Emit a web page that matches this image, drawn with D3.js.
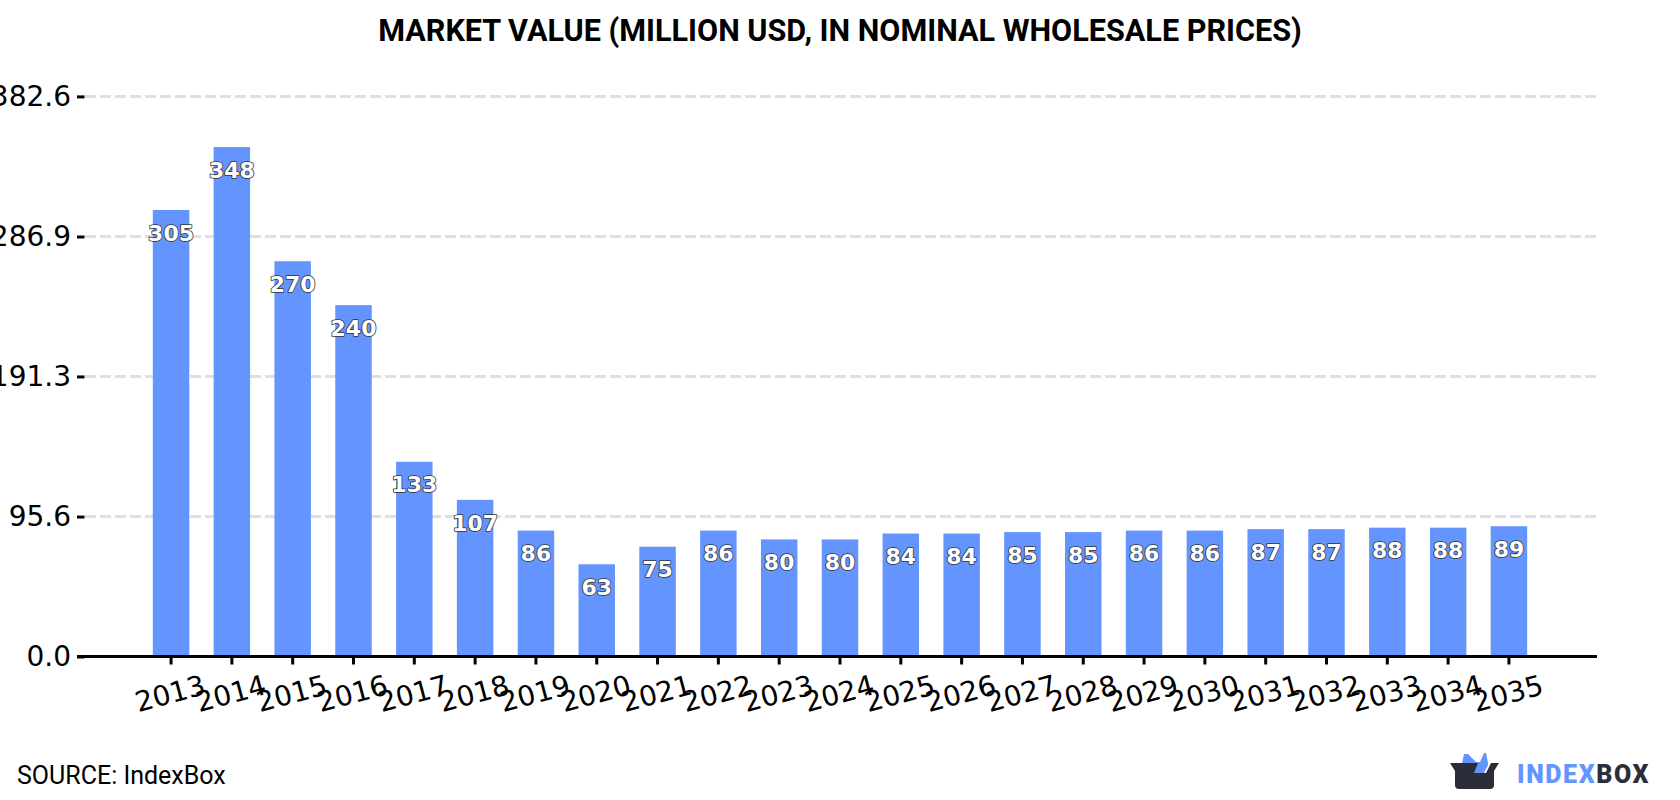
<!DOCTYPE html>
<html>
<head>
<meta charset="utf-8">
<script src="https://cdn.jsdelivr.net/npm/d3@7/dist/d3.min.js"></script>
<style>
html, body { margin: 0; padding: 0; background: #fff; }
svg { display: block; }
</style>
</head>
<body>
<svg id="chart" width="1680" height="800"></svg>
<script>
const years = ["2013","2014","2015","2016","2017","2018","2019","2020","2021","2022","2023","2024","2025","2026","2027","2028","2029","2030","2031","2032","2033","2034","2035"];
const marketValue = [305,348,270,240,133,107,86,63,75,86,80,80,84,84,85,85,86,86,87,87,88,88,89];
const yTicks = [0, 95.6, 191.3, 286.9, 382.6];

const titleText = "MARKET VALUE (MILLION USD, IN NOMINAL WHOLESALE PRICES)";
const sourceText = "SOURCE: IndexBox";
const BLUE = "#6495ff";
const DARK = "#2b2d3a";
const AXIS_LEFT = 77, AXIS_RIGHT = 1597, BASE = 656.5, TOP = 96.4;

const svg = d3.select("#chart");

const x = d3.scaleBand().domain(years).range([92, 1588]).paddingInner(0.4).paddingOuter(1);
const y = d3.scaleLinear().domain([0, 382.6]).range([BASE, TOP]);

svg.append("text").attr("x", 840).attr("y", 41).attr("text-anchor", "middle")
  .attr("font-family", "Roboto").attr("font-weight", 700).attr("font-size", 30.6)
  .attr("fill", "#000").text(titleText);

// Dashed gridlines sit behind the bars, one per non-zero tick
svg.append("g").selectAll("line").data(yTicks.filter(d => d > 0)).join("line")
  .attr("x1", 85).attr("x2", AXIS_RIGHT)
  .attr("y1", d => y(d)).attr("y2", d => y(d))
  .attr("stroke", "#e0e0e0").attr("stroke-width", 3).attr("stroke-dasharray", "11 4");

// Left axis: short ticks and fixed one-decimal labels
const yAxis = svg.append("g").attr("transform", `translate(84.5,0)`)
  .call(d3.axisLeft(y).tickValues(yTicks).tickSize(7.5).tickPadding(6).tickFormat(d3.format(".1f")));
yAxis.select(".domain").remove();
yAxis.selectAll("line").attr("stroke", "#000").attr("stroke-width", 3);
yAxis.selectAll("text").attr("font-family", "DejaVu Sans").attr("font-size", 28).attr("fill", "#000");

svg.append("g").selectAll("rect").data(marketValue).join("rect")
  .attr("x", (d, i) => x(years[i])).attr("width", x.bandwidth())
  .attr("y", d => y(d)).attr("height", d => BASE - y(d))
  .attr("fill", BLUE);

// Bottom axis with slanted year labels
const xAxis = svg.append("g").attr("transform", `translate(0,${BASE})`)
  .call(d3.axisBottom(x).tickSize(8));
xAxis.select(".domain").remove();
xAxis.selectAll("line").attr("stroke", "#000").attr("stroke-width", 3);
xAxis.selectAll("text")
  .attr("font-family", "DejaVu Sans").attr("font-size", 28).attr("fill", "#000")
  .attr("text-anchor", "middle")
  .attr("transform", "translate(-1,37) rotate(-15)").attr("y", 0).attr("dy", "0.35em");

svg.append("line").attr("x1", AXIS_LEFT).attr("x2", AXIS_RIGHT).attr("y1", BASE).attr("y2", BASE)
  .attr("stroke", "#000").attr("stroke-width", 3);

// Value labels: white bold digits with a thin dark outline
svg.append("g").selectAll("text").data(marketValue).join("text")
  .attr("x", (d, i) => x(years[i]) + x.bandwidth() / 2)
  .attr("y", d => y(d) + 23).attr("dy", "0.35em")
  .attr("text-anchor", "middle")
  .attr("font-family", "DejaVu Sans").attr("font-weight", 700).attr("font-size", 22)
  .attr("fill", "#fff").attr("stroke", "#333").attr("stroke-width", 1.6)
  .attr("paint-order", "stroke").attr("stroke-linejoin", "round")
  .text(d => d);

svg.append("text").attr("x", 17).attr("y", 784)
  .attr("font-family", "Roboto").attr("font-size", 25).attr("fill", "#000").text(sourceText);

// IndexBox logo: open box with two blue flaps and the wordmark
const logo = svg.append("g");
logo.append("path").attr("fill", BLUE)
  .attr("d", "M1462 773 L1462 763 L1464 754 L1468 754 L1476 762 L1480 762 L1484 753 L1486 753 L1488 763 L1488 765 L1484 773 Z");
logo.append("path").attr("fill", DARK)
  .attr("d", "M1450 763 L1478 763 L1474 773 L1486 773 L1491 763 L1499 763 L1494 771 L1494 785 Q1494 789 1490 789 L1459 789 Q1455 789 1455 785 L1455 771 Z");
const word = logo.append("text").attr("x", 1517).attr("y", 783)
  .attr("font-family", "Roboto").attr("font-weight", 900).attr("font-size", 25).attr("letter-spacing", 1.6);
word.append("tspan").attr("fill", BLUE).text("INDEX");
word.append("tspan").attr("fill", DARK).text("BOX");
</script>
</body>
</html>
